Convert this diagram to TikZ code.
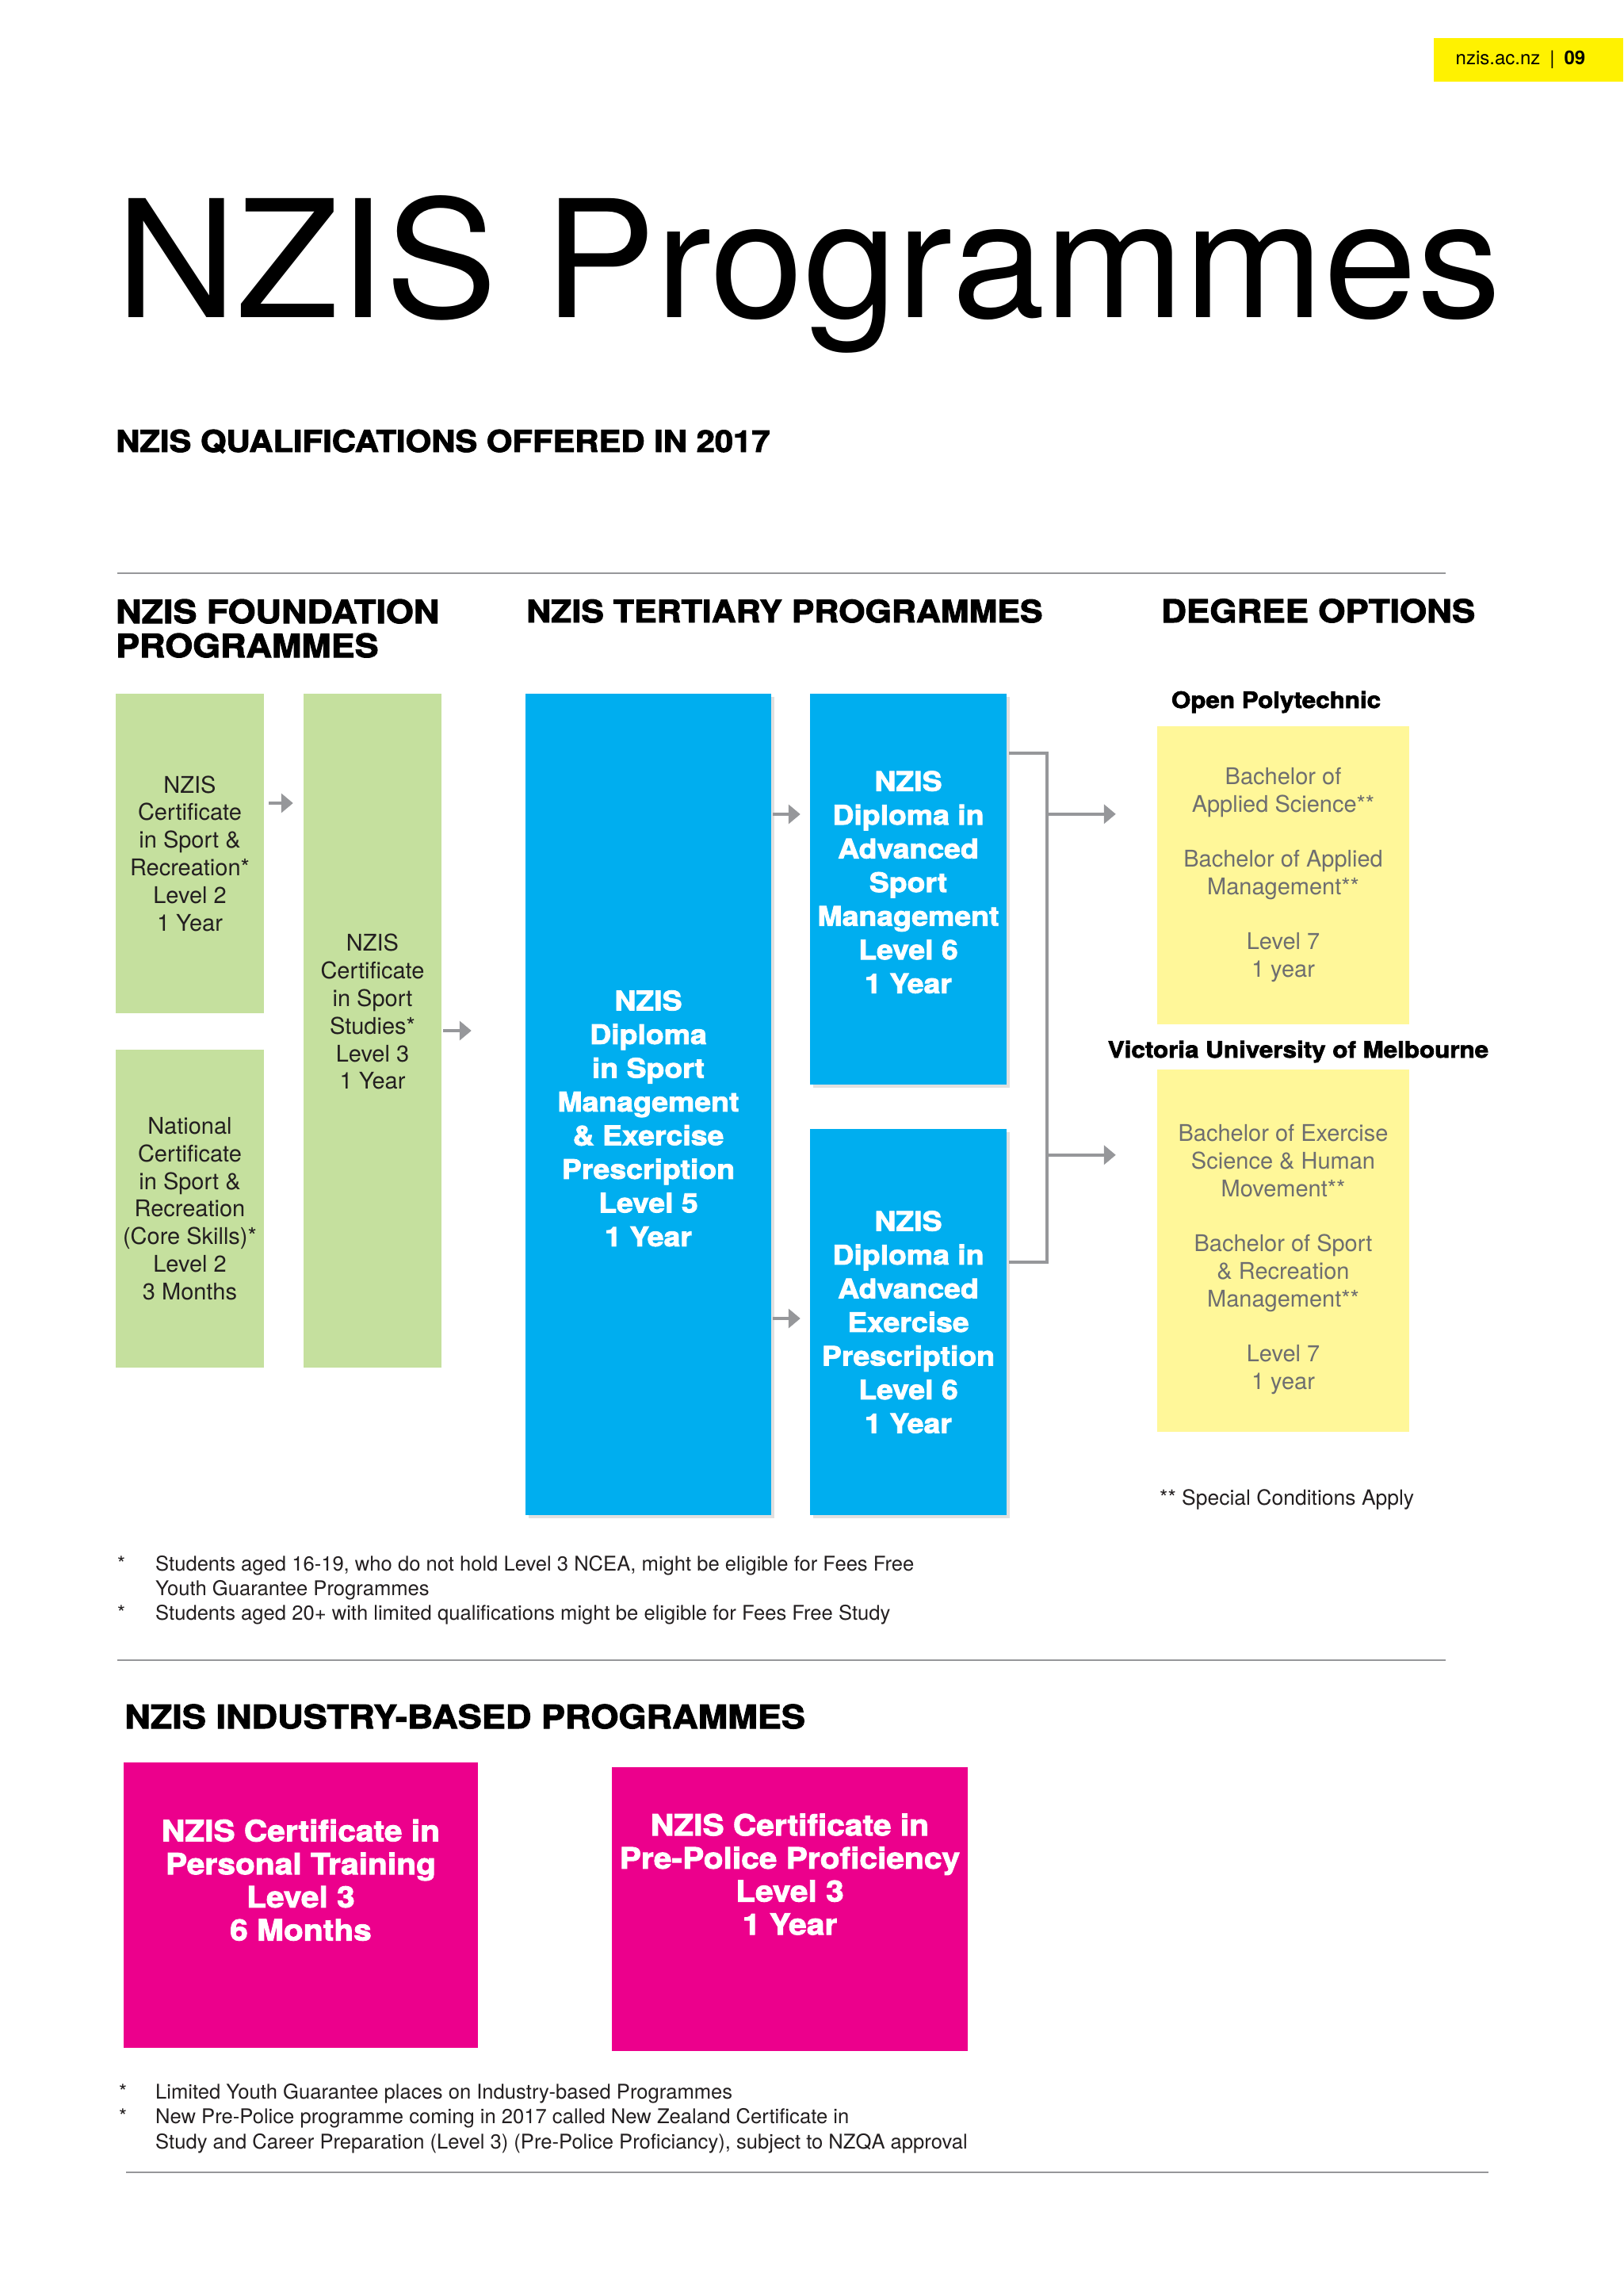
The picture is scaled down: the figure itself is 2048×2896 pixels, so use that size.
\documentclass[tikz,border=0pt]{standalone}
\usepackage{fontspec}
\setmainfont{TeX Gyre Heros}
\newfontfamily\widebf[FakeStretch=1.1,FakeBold=2.5]{TeX Gyre Heros}
\newfontfamily\titlefont[FakeStretch=1.026]{TeX Gyre Heros}
\usetikzlibrary{arrows.meta,positioning,calc,shadows}
\definecolor{nzisGreen}{RGB}{197,224,158}
\definecolor{nzisBlue}{RGB}{0,174,239}
\definecolor{nzisCream}{RGB}{255,247,153}
\definecolor{nzisPink}{RGB}{236,0,140}
\definecolor{nzisTag}{RGB}{255,242,0}
\definecolor{nzisGrey}{RGB}{150,151,154}
\definecolor{nzisText}{RGB}{35,31,32}
\definecolor{nzisSoft}{RGB}{110,110,112}
\tikzset{
  progbox/.style={
    rectangle, fill=#1, inner sep=0pt, align=center
  },
  greenbox/.style={
    progbox=nzisGreen, text=nzisText,
    font=\fontsize{29}{34.8}\selectfont
  },
  bluebox/.style={
    progbox=nzisBlue, text=white,
    font=\widebf\bfseries\fontsize{34}{42.5}\selectfont,
    drop shadow={shadow xshift=4pt, shadow yshift=-4pt, fill=black, opacity=0.12}
  },
  degbox/.style={
    progbox=nzisCream, text=nzisSoft,
    font=\fontsize{29}{35}\selectfont
  },
  pinkbox/.style={
    progbox=nzisPink, text=white,
    font=\widebf\bfseries\fontsize{37}{41.7}\selectfont
  },
  sechead/.style={
    anchor=base west, inner sep=0pt, align=left,
    font=\widebf\bfseries\fontsize{40}{43}\selectfont
  },
  unihead/.style={
    anchor=base, inner sep=0pt,
    font=\widebf\bfseries\fontsize{28.5}{34}\selectfont
  },
  notetext/.style={
    anchor=base west, inner sep=0pt, text=nzisText,
    font=\fontsize{25.6}{31}\selectfont
  },
  myarr/.style={-{Triangle[length=15pt,width=24pt]}, line width=4pt, draw=nzisGrey},
  joinline/.style={line width=4pt, draw=nzisGrey},
  hrule/.style={line width=2.5pt, draw=nzisGrey},
}

\begin{document}
\begin{tikzpicture}[x=1pt,y=-1pt]
  \useasboundingbox (0,0) rectangle (2048,2896);

  \node[fill=nzisTag, minimum width=239pt, minimum height=55pt, inner sep=0pt,
        font=\fontsize{24}{24}\selectfont] (tag) at (1928.5,75.5)
        {nzis.ac.nz\enspace|\enspace\textbf{09}\hspace*{20pt}};

  \node[anchor=base west, inner sep=0pt, font=\titlefont\fontsize{206}{206}\selectfont]
        (title) at (146,400) {NZIS Programmes};
  \node[sechead, font=\widebf\bfseries\fontsize{38}{40}\selectfont]
        (offered) at (146,570) {NZIS QUALIFICATIONS OFFERED IN 2017};

  \draw[hrule] (148,723) -- (1824,723);

  \node[sechead, font=\widebf\bfseries\fontsize{40.8}{43}\selectfont] (foundhd) at (146,829) {NZIS FOUNDATION\\PROGRAMMES};
  \node[sechead, font=\widebf\bfseries\fontsize{39}{43}\selectfont] (terthd) at (664,785) {NZIS TERTIARY PROGRAMMES};
  \node[sechead] (deghd) at (1465,785) {DEGREE OPTIONS};

  \node[greenbox, minimum width=187pt, minimum height=403pt] (ncsr) at (239.5,1076.5)
        {NZIS\\Certificate\\in Sport \&\\Recreation*\\Level 2\\1 Year};
  \node[greenbox, minimum width=187pt, minimum height=401pt] (ncore) at (239.5,1524.5)
        {National\\Certificate\\in Sport \&\\Recreation\\(Core Skills)*\\Level 2\\3 Months};
  \node[greenbox, minimum width=174pt, minimum height=850pt, text depth=48pt] (sst) at (470,1300)
        {NZIS\\Certificate\\in Sport\\Studies*\\Level 3\\1 Year};

  \node[bluebox, minimum width=310pt, minimum height=1036pt, text height=358pt] (dsm) at (818,1393)
        {NZIS\\Diploma\\in Sport\\Management\\\& Exercise\\Prescription\\Level 5\\1 Year};
  \node[bluebox, minimum width=248pt, minimum height=493pt, text depth=18pt] (dasm) at (1146,1121.5)
        {NZIS\\Diploma in\\Advanced\\Sport\\Management\\Level 6\\1 Year};
  \node[bluebox, minimum width=248pt, minimum height=487pt] (daep) at (1146,1667.5)
        {NZIS\\Diploma in\\Advanced\\Exercise\\Prescription\\Level 6\\1 Year};

  \node[unihead] (ophd) at (1610,893) {Open Polytechnic};
  \node[degbox, minimum width=318pt, minimum height=376pt] (opbox) at (1619,1104)
        {Bachelor of\\Applied Science**\\[34pt]Bachelor of Applied\\Management**\\[34pt]Level 7\\1 year};
  \node[unihead] (vuhd) at (1638,1334) {Victoria University of Melbourne};
  \node[degbox, minimum width=318pt, minimum height=457pt, text height=356pt] (vubox) at (1619,1577.5)
        {Bachelor of Exercise\\Science \& Human\\Movement**\\[34pt]Bachelor of Sport\\\& Recreation\\Management**\\[34pt]Level 7\\1 year};
  \node[notetext, font=\fontsize{26.5}{30}\selectfont] (special) at (1463,1898)
        {** Special Conditions Apply};

  \draw[myarr] ([xshift=6pt,yshift=63.5pt]ncsr.east) coordinate (f1) -- ($(sst.west |- f1)+(-13,0)$);
  \draw[myarr] ([xshift=2pt]sst.east) coordinate (f2) -- ($(dsm.west |- f2)+(-68,0)$);
  \draw[myarr] ([xshift=2pt,yshift=366pt]dsm.east) coordinate (t1) -- ($(dasm.west |- t1)+(-12,0)$);
  \draw[myarr] ([xshift=2pt,yshift=-270pt]dsm.east) coordinate (t2) -- ($(daep.west |- t2)+(-12,0)$);

  \coordinate (spine) at (1321,1300);
  \draw[joinline] ([xshift=3pt,yshift=171.5pt]dasm.east) -| (spine) |- ([xshift=3pt,yshift=75.5pt]daep.east);
  \draw[myarr] ($(spine |- opbox.north)+(0,111)$) coordinate (d1) -- ($(opbox.west |- d1)+(-52,0)$);
  \draw[myarr] ($(spine |- vubox.north)+(0,108)$) coordinate (d2) -- ($(vubox.west |- d2)+(-52,0)$);

  \node[notetext] (note1) at (148,1981)
        {\begin{tabular}[t]{@{}p{48pt}@{}l@{}}
         *&Students aged 16-19, who do not hold Level 3 NCEA, might be eligible for Fees Free\\
         &Youth Guarantee Programmes\\
         {*}&Students aged 20+ with limited qualifications might be eligible for Fees Free Study
         \end{tabular}};

  \draw[hrule] (148,2094) -- (1824,2094);

  \node[sechead, font=\widebf\bfseries\fontsize{41}{43}\selectfont] (indhd) at (157,2180) {NZIS INDUSTRY-BASED PROGRAMMES};

  \node[pinkbox, minimum width=447pt, minimum height=360pt, text depth=63pt] (ptbox) at (379.5,2402.7)
        {NZIS Certificate in\\Personal Training\\Level 3\\6 Months};
  \node[pinkbox, minimum width=449pt, minimum height=358pt, text depth=88pt] (ppbox) at (996.5,2407.9)
        {NZIS Certificate in\\Pre-Police Proficiency\\Level 3\\1 Year};

  \node[notetext, font=\fontsize{25.6}{31.5}\selectfont] (note2) at (150,2647)
        {\begin{tabular}[t]{@{}p{46pt}@{}l@{}}
         *&Limited Youth Guarantee places on Industry-based Programmes\\
         {*}&New Pre-Police programme coming in 2017 called New Zealand Certificate in\\
         &Study and Career Preparation (Level 3) (Pre-Police Proficiancy), subject to NZQA approval
         \end{tabular}};

  \draw[hrule] (159,2740) -- (1878,2740);
\end{tikzpicture}
\end{document}
